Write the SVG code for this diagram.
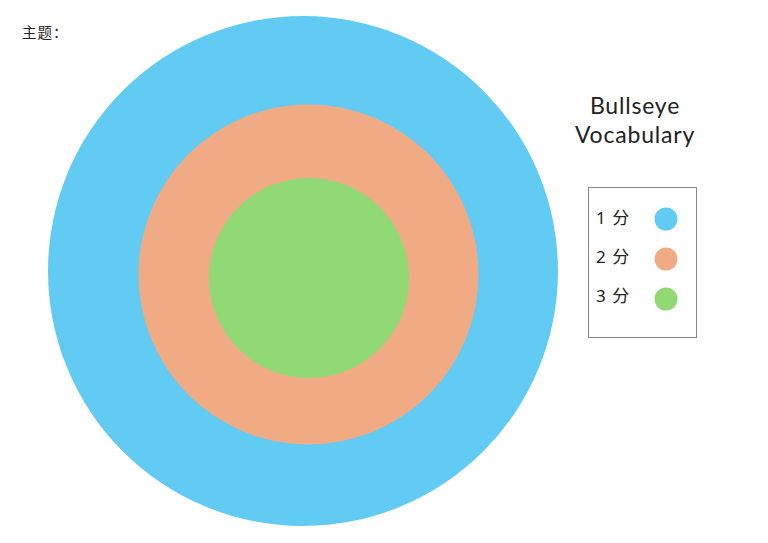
<svg xmlns="http://www.w3.org/2000/svg" width="768" height="543" viewBox="0 0 768 543">
<style>
.t{font-family:"Noto Sans","Noto Sans CJK SC",sans-serif;fill:#222}
.lg{font-size:17px}
.title{font-size:23px;text-anchor:middle;fill:#222;font-family:"Lato","Noto Sans",sans-serif;letter-spacing:0.8px}
</style>
<rect width="768" height="543" fill="#fff"/>
<g id="topic"><text class="t" x="22" y="38" font-size="14.5" letter-spacing="1">主题：</text></g>
<g id="target">
<circle id="ring1" cx="303" cy="271" r="255" fill="#62cbf4"/>
<circle id="ring2" cx="308.5" cy="274.5" r="170" fill="#f0ab85"/>
<circle id="ring3" cx="309" cy="278" r="100" fill="#90d975"/>
</g>
<g id="title">
<text class="title" x="635" y="114">Bullseye</text>
<text class="title" x="635" y="143">Vocabulary</text>
</g>
<g id="legend">
<rect x="588.5" y="187.5" width="108" height="150" fill="#fff" stroke="#888" stroke-width="1"/>
<g id="l1"><text class="t lg" x="596" y="224" letter-spacing="1">1 分</text><circle cx="666" cy="219" r="11.5" fill="#62cbf4"/></g>
<g id="l2"><text class="t lg" x="596" y="263" letter-spacing="1">2 分</text><circle cx="666" cy="259" r="11.5" fill="#f0ab85"/></g>
<g id="l3"><text class="t lg" x="596" y="302" letter-spacing="1">3 分</text><circle cx="666" cy="299" r="11.5" fill="#90d975"/></g>
</g>
</svg>
